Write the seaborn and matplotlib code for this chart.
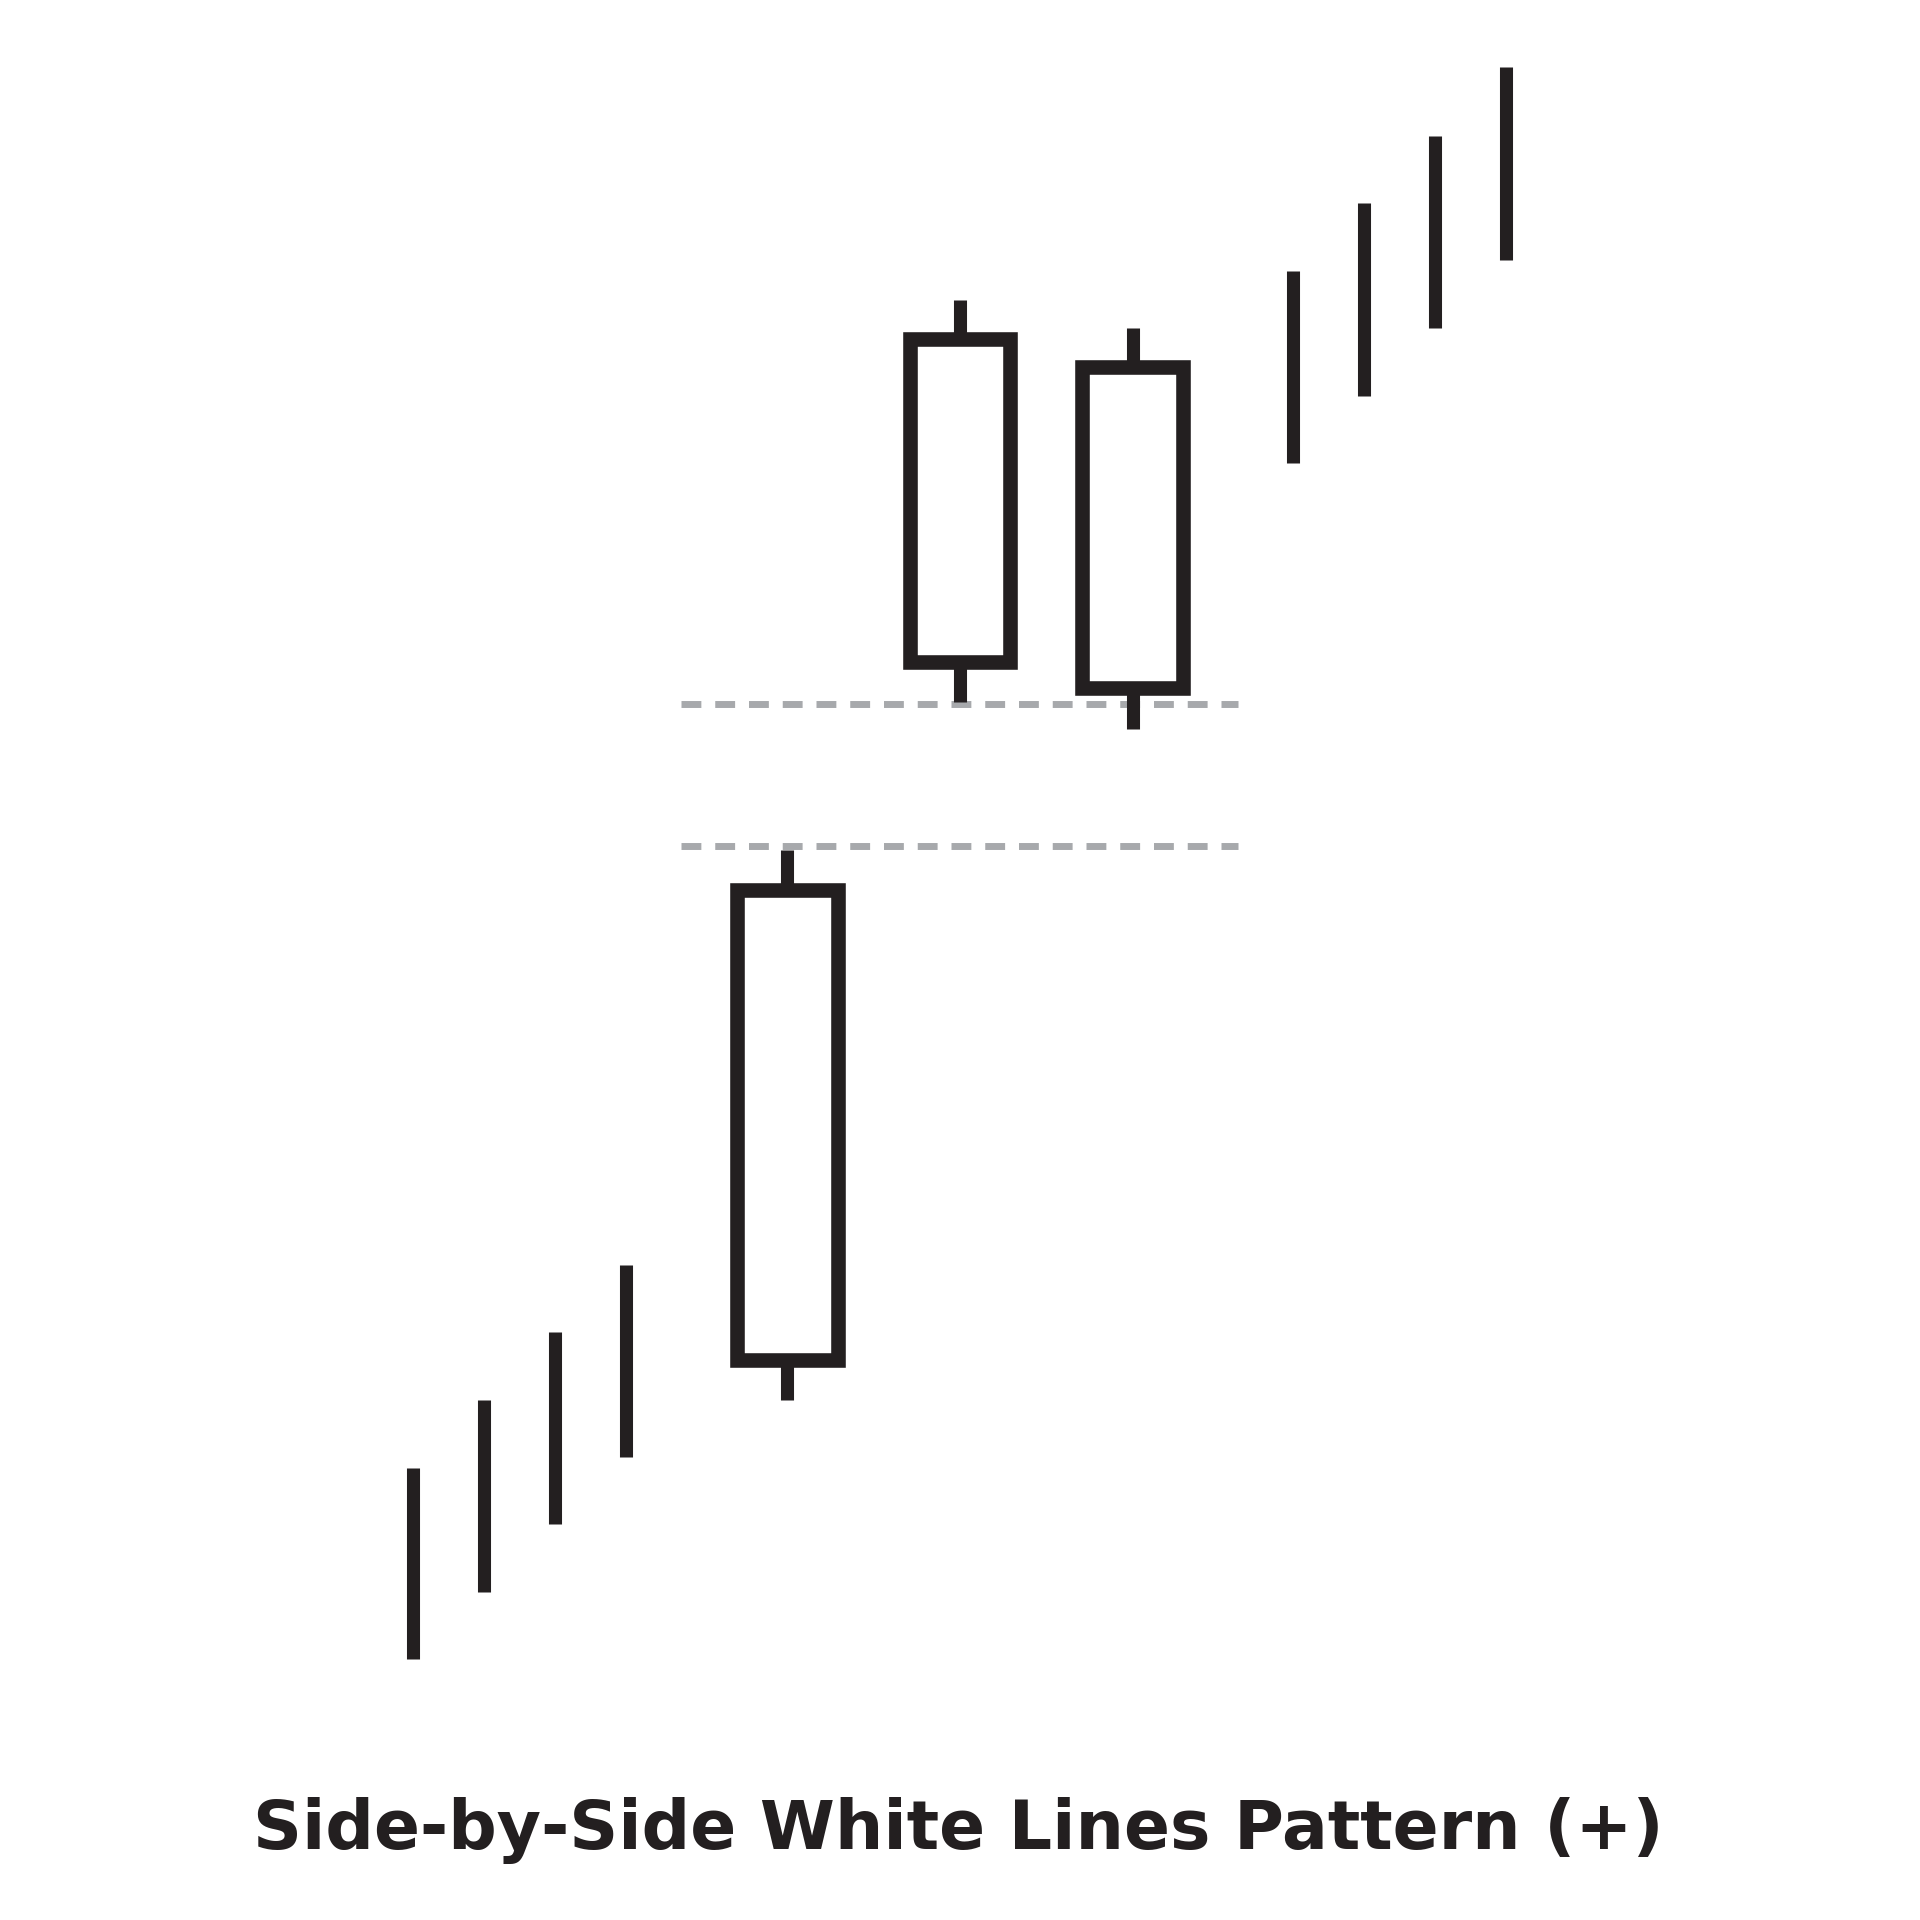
import numpy as np
import pandas as pd
import matplotlib.pyplot as plt
from matplotlib.patches import Rectangle
import seaborn as sns

# time positions (plot units) and prices
t = [337, 395, 453, 511, 643, 784, 925, 1056, 1114, 1172, 1230]
low = [4.5, 10.0, 15.5, 21.0, 25.7, 82.7, 80.5, 102.2, 107.7, 113.2, 118.8]
high = [20.1, 25.7, 31.2, 36.7, 70.6, 115.5, 113.2, 117.9, 123.4, 128.9, 134.5]
open_ = [None, None, None, None, 28.9, 85.9, 83.8, None, None, None, None]
close = [None, None, None, None, 67.3, 112.3, 110.0, None, None, None, None]

# reference levels (dashed)
levels = [82.5, 70.9]
level_span = (556, 1011)

title = "Side-by-Side White Lines Pattern (+)"

ink = "#231f20"
dash_color = "#a7a9ac"
body_width = 82
lw = 9.4
body_lw = 10.5

df = pd.DataFrame({"t": t, "low": low, "high": high, "open": open_, "close": close})

sns.set_theme(style="white")
plt.rcParams["font.family"] = ["DejaVu Sans"]

fig = plt.figure(figsize=(19.2, 19.2), dpi=100)
ax = fig.add_axes([0, 0, 1, 1])
ax.set_xlim(0, 1568)
ax.set_ylim(-16.8, 140.0)
ax.axis("off")

for y in levels:
    ax.hlines(y, *level_span, colors=dash_color, linewidth=5, linestyles=(0, (2.86, 2.0)), zorder=1)

lines_only = df[df["open"].isna()]
ax.vlines(lines_only["t"], lines_only["low"], lines_only["high"], colors=ink, linewidth=lw, zorder=2)

candles = df[df["open"].notna()]
for _, r in candles.iterrows():
    lo_body, hi_body = min(r["open"], r["close"]), max(r["open"], r["close"])
    ax.vlines(r["t"], r["low"], lo_body, colors=ink, linewidth=lw, zorder=2)
    ax.vlines(r["t"], hi_body, r["high"], colors=ink, linewidth=lw, zorder=2)
    ax.add_patch(Rectangle((r["t"] - body_width / 2, lo_body), body_width, hi_body - lo_body,
                           facecolor="white", edgecolor=ink, linewidth=body_lw, zorder=3))

fig.text(0.499, 0.037, title, ha="center", va="baseline", fontsize=49,
         fontweight="bold", color=ink)

fig.savefig("out.png", dpi=100, facecolor="white")
